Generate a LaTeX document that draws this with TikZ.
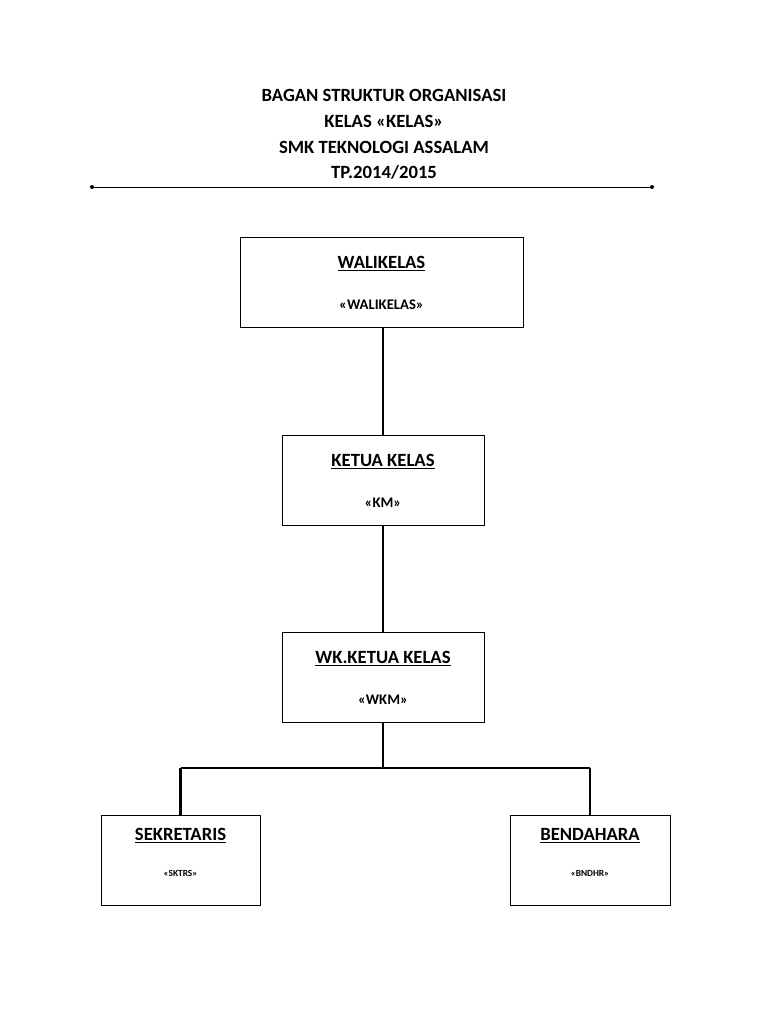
\documentclass[tikz,border=0pt]{standalone}
\usepackage{fontspec}
\setmainfont{Carlito}
\begin{document}
\begin{tikzpicture}[x=0.75pt,y=-0.75pt,
  box/.style={draw,line width=0.6pt},
  lbl/.style={font=\bfseries\fontsize{14}{16}\selectfont},
  sub/.style={font=\bfseries\fontsize{11}{13}\selectfont},
  tiny/.style={font=\bfseries\fontsize{7}{9}\selectfont},
  conn/.style={line width=1.6pt}]
\useasboundingbox (0,0) rectangle (768,1024);
\node[lbl] (t1) at (384,95) {BAGAN STRUKTUR ORGANISASI};
\node[lbl] (t2) at (384,121) {KELAS «KELAS»};
\node[lbl] (t3) at (384,147) {SMK TEKNOLOGI ASSALAM};
\node[lbl] (t4) at (384,172) {TP.2014/2015};
\coordinate (l1) at (92,187); \coordinate (l2) at (652,187);
\draw[line width=0.6pt] (l1) -- (l2);
\fill (l1) circle (2); \fill (l2) circle (2);

\node[box,minimum width=283*0.75pt,minimum height=90*0.75pt] (w) at (381.5,282) {};
\node[lbl] (wt) at (381.5,264) {\underline{WALIKELAS}};
\node[sub] (ws) at (381.5,305) {«WALIKELAS»};

\node[box,minimum width=202*0.75pt,minimum height=90*0.75pt] (k) at (383,480) {};
\node[lbl] (kt) at (383,462) {\underline{KETUA KELAS}};
\node[sub] (ks) at (383,503) {«KM»};

\node[box,minimum width=202*0.75pt,minimum height=90*0.75pt] (wk) at (383,677) {};
\node[lbl] (wkt) at (383,659) {\underline{WK.KETUA KELAS}};
\node[sub] (wks) at (383,700) {«WKM»};

\node[box,minimum width=159*0.75pt,minimum height=90*0.75pt] (s) at (180.5,860) {};
\node[lbl] (st) at (180.5,836) {\underline{SEKRETARIS}};
\node[tiny] (ss) at (180.5,873) {«SKTRS»};

\node[box,minimum width=160*0.75pt,minimum height=90*0.75pt] (b) at (590,860) {};
\node[lbl] (bt) at (590,836) {\underline{BENDAHARA}};
\node[tiny] (bs) at (590,873) {«BNDHR»};

\coordinate (j) at (383,768);
\draw[conn] (w.south -| k.north) -- (k.north);
\draw[conn] (k.south) -- (wk.north);
\draw[conn] (wk.south) -- (j);
\draw[conn] (s.north |- j) -- (b.north |- j);
\draw[conn] (s.north |- j) -- (s.north);
\draw[conn] (b.north |- j) -- (b.north);
\end{tikzpicture}
\end{document}
